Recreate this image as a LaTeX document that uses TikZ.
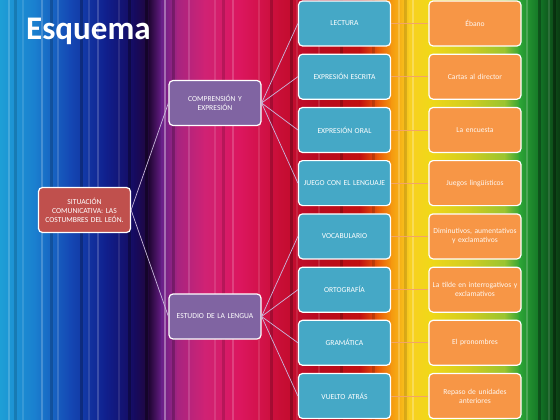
\documentclass[tikz,border=0pt]{standalone}
\usepackage{fontspec}
\setmainfont{Carlito}
\usepackage{tikz}
\usetikzlibrary{positioning}

\definecolor{bgA}{HTML}{1E9FD6}
\definecolor{bgB}{HTML}{1A7FCF}
\definecolor{bgC}{HTML}{1448B4}
\definecolor{bgD}{HTML}{10208E}
\definecolor{bgE}{HTML}{160A5E}
\definecolor{bgF}{HTML}{240638}
\definecolor{bgG}{HTML}{6A1F8A}
\definecolor{bgH}{HTML}{A82480}
\definecolor{bgI}{HTML}{D02274}
\definecolor{bgJ}{HTML}{DC165E}
\definecolor{bgK}{HTML}{C80E36}
\definecolor{bgL}{HTML}{B80A1E}
\definecolor{bgM}{HTML}{C21010}
\definecolor{bgN}{HTML}{E85A08}
\definecolor{bgO}{HTML}{F59A10}
\definecolor{bgP}{HTML}{F8D020}
\definecolor{bgQ}{HTML}{F0D818}
\definecolor{bgR}{HTML}{D0CC20}
\definecolor{bgS}{HTML}{98C430}
\definecolor{bgT}{HTML}{2CA436}
\definecolor{bgU}{HTML}{137426}
\definecolor{bgV}{HTML}{0A3A12}

\definecolor{rootred}{HTML}{C0504D}
\definecolor{themepurple}{HTML}{8064A2}
\definecolor{topicblue}{HTML}{45A8C6}
\definecolor{itemorange}{HTML}{F79646}
\definecolor{linklav}{HTML}{C8B8DC}
\definecolor{linkorange}{HTML}{F2A468}

\tikzset{
  box/.style={draw=white, line width=1.2pt, rounded corners=4pt, minimum width=92pt,
    minimum height=45pt, align=center, text width=88pt, inner sep=1pt,
    font=\fontsize{7.6}{9}\selectfont, text=white},
  rootbox/.style={box, fill=rootred},
  themebox/.style={box, fill=themepurple},
  topicbox/.style={box, fill=topicblue},
  itembox/.style={box, fill=itemorange, text=white!92!itemorange},
  link/.style={draw=linklav, line width=0.7pt},
  itemlink/.style={draw=linkorange, line width=0.7pt}
}

\begin{document}
\begin{tikzpicture}[x=1pt,y=-1pt]
\useasboundingbox (0,0) rectangle (560,420);

% background stripes
\foreach \xa/\ca/\xb/\cb in {0/bgA/35/bgB, 35/bgB/70/bgC, 70/bgC/105/bgD, 105/bgD/135/bgE,
  135/bgE/150/bgF, 150/bgF/162/bgG, 162/bgG/178/bgH, 178/bgH/205/bgI, 205/bgI/240/bgJ,
  240/bgJ/280/bgK, 280/bgK/320/bgL, 320/bgL/360/bgM, 360/bgM/378/bgN, 378/bgN/392/bgO,
  392/bgO/410/bgP, 410/bgP/430/bgQ, 430/bgQ/470/bgR, 470/bgR/505/bgS, 505/bgS/520/bgT,
  520/bgT/540/bgU, 540/bgU/560/bgV}
  \shade[left color=\ca, right color=\cb] (\xa-0.3,0) rectangle (\xb+0.3,420);

\foreach \sx/\so in {8/0.18, 22/0.12, 41/0.2, 57/0.15, 88/0.12, 97/0.18, 118/0.1, 164/0.35,
  188/0.15, 214/0.12, 232/0.18, 258/0.12, 296/0.1, 318/0.12, 398/0.2, 412/0.25, 526/0.18, 548/0.12}
  \fill[white, opacity=\so] (\sx,0) rectangle ++(1.6,420);
\foreach \sx/\so in {14/0.15, 50/0.2, 80/0.25, 128/0.3, 145/0.35, 172/0.2, 222/0.15, 270/0.2,
  290/0.25, 340/0.2, 372/0.15, 404/0.12, 538/0.3, 553/0.35}
  \fill[black, opacity=\so] (\sx,0) rectangle ++(3,420);

% title
\node [anchor=base west, inner sep=0pt, text=white, font=\fontsize{33}{36}\selectfont\bfseries]
  (title) at (26,40) {Esquema};

% boxes
\node [rootbox] (root) at (84.5,210) {SITUACIÓN\\COMUNICATIVA: LAS\\COSTUMBRES DEL LEÓN.};
\node [themebox] (comp) at (215,103) {COMPRENSIÓN Y\\EXPRESIÓN};
\node [themebox] (est) at (215,316.5) {ESTUDIO DE LA LENGUA};

\node [topicbox] (lect) at (344.5,23.5) {LECTURA};
\node [topicbox] (escr) at (344.5,76.7) {EXPRESIÓN ESCRITA};
\node [topicbox] (oral) at (344.5,130) {EXPRESIÓN ORAL};
\node [topicbox] (jueg) at (344.5,183.1) {JUEGO CON EL LENGUAJE};
\node [topicbox] (voca) at (344.5,236.4) {VOCABULARIO};
\node [topicbox] (orto) at (344.5,289.7) {ORTOGRAFÍA};
\node [topicbox] (gram) at (344.5,342.8) {GRAMÁTICA};
\node [topicbox] (vuel) at (344.5,396) {VUELTO ATRÁS};

\node [itembox] (eban) at (475,23.5) {Ébano};
\node [itembox] (cart) at (475,76.7) {Cartas al director};
\node [itembox] (encu) at (475,130) {La encuesta};
\node [itembox] (ling) at (475,183.1) {Juegos lingüísticos};
\node [itembox] (dimi) at (475,236.4) {Diminutivos, aumentativos\\y exclamativos};
\node [itembox] (tild) at (475,289.7) {La tilde en interrogativos y\\exclamativos};
\node [itembox] (pron) at (475,342.8) {El pronombres};
\node [itembox] (repa) at (475,396) {Repaso de unidades\\anteriores};

% connectors
\draw [link] (root.east) -- (comp.west);
\draw [link] (root.east) -- (est.west);
\foreach \t in {lect,escr,oral,jueg}
  \draw [link] (comp.east) -- (\t.west);
\foreach \t in {voca,orto,gram,vuel}
  \draw [link] (est.east) -- (\t.west);
\foreach \t/\i in {lect/eban,escr/cart,oral/encu,jueg/ling,voca/dimi,orto/tild,gram/pron,vuel/repa}
  \draw [itemlink] (\t.east) -- (\i.west);
\end{tikzpicture}
\end{document}
